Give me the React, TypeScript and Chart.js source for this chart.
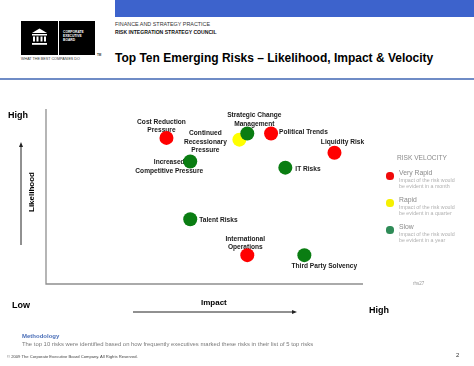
import React, { useEffect, useRef } from "react";
import { Chart, registerables } from "chart.js";

Chart.register(...registerables);

// ---------- DATA ----------
const riskNames = [
  "Cost Reduction Pressure",
  "Increased Competitive Pressure",
  "Talent Risks",
  "Continued Recessionary Pressure",
  "Strategic Change Management",
  "Political Trends",
  "Liquidity Risk",
  "IT Risks",
  "International Operations",
  "Third Party Solvency",
];
const riskLabelLines = [
  ["Cost Reduction", "Pressure"],
  ["Increased", "Competitive Pressure"],
  ["Talent Risks"],
  ["Continued", "Recessionary", "Pressure"],
  ["Strategic Change", "Management"],
  ["Political Trends"],
  ["Liquidity Risk"],
  ["IT Risks"],
  ["International", "Operations"],
  ["Third Party Solvency"],
];
const impact = [3.8, 4.55, 4.55, 6.1, 6.35, 7.1, 9.1, 7.55, 6.35, 8.15];
const likelihood = [8.35, 7.0, 3.7, 8.25, 8.6, 8.6, 7.5, 6.65, 1.65, 1.65];
const velocity = [
  "Very Rapid",
  "Slow",
  "Slow",
  "Rapid",
  "Slow",
  "Very Rapid",
  "Very Rapid",
  "Slow",
  "Very Rapid",
  "Slow",
];
const velocityLevels = ["Very Rapid", "Rapid", "Slow"];
const velocityNotes = [
  ["Impact of the risk would", "be evident in a month"],
  ["Impact of the risk would", "be evident in a quarter"],
  ["Impact of the risk would", "be evident in a year"],
];

// ---------- STYLE ----------
const velocityColors: Record<string, string> = {
  "Very Rapid": "#ff0000",
  Rapid: "#ffff00",
  Slow: "#0a7d12",
};
const legendColors: Record<string, string> = {
  "Very Rapid": "#f00a0a",
  Rapid: "#f5f000",
  Slow: "#2e8b57",
};
// label placement relative to each point (px): dx, dy of first line, alignment
const labelPlacement: { dx: number; dy: number; align: CanvasTextAlign }[] = [
  { dx: -5, dy: -16, align: "center" },
  { dx: -21, dy: 1, align: "center" },
  { dx: 9, dy: 1, align: "left" },
  { dx: -34, dy: -6, align: "center" },
  { dx: 7, dy: -18, align: "center" },
  { dx: 8, dy: -1, align: "left" },
  { dx: 8, dy: -11, align: "center" },
  { dx: 10, dy: 2, align: "left" },
  { dx: -2, dy: -16, align: "center" },
  { dx: 20, dy: 11, align: "center" },
];

const FONT = '"Liberation Sans", Arial, Helvetica, sans-serif';

const axesPlugin = {
  id: "axesLines",
  beforeDatasetsDraw(chart: any) {
    const { ctx, chartArea } = chart;
    ctx.save();
    ctx.strokeStyle = "#8f8f8f";
    ctx.lineWidth = 1.3;
    ctx.beginPath();
    ctx.moveTo(chartArea.left, chartArea.top);
    ctx.lineTo(chartArea.left, chartArea.bottom);
    ctx.lineTo(chartArea.right, chartArea.bottom);
    ctx.stroke();
    ctx.restore();
  },
};

const labelPlugin = {
  id: "riskLabels",
  beforeDatasetsDraw(chart: any) {
    const { ctx } = chart;
    const meta = chart.getDatasetMeta(0);
    ctx.save();
    ctx.font = `bold 6.6px ${FONT}`;
    ctx.fillStyle = "#1a1a1a";
    ctx.textBaseline = "middle";
    meta.data.forEach((pt: any, i: number) => {
      const p = labelPlacement[i];
      ctx.textAlign = p.align;
      riskLabelLines[i].forEach((line, j) => {
        ctx.fillText(line, pt.x + p.dx, pt.y + p.dy + j * 8.5);
      });
    });
    ctx.restore();
  },
};

function T(props: {
  x: number;
  y: number;
  size: number;
  bold?: boolean;
  color?: string;
  children: React.ReactNode;
  style?: React.CSSProperties;
}) {
  return (
    <div
      style={{
        position: "absolute",
        left: props.x,
        top: props.y,
        transform: "translateY(-50%)",
        fontSize: props.size,
        fontWeight: props.bold ? "bold" : "normal",
        color: props.color || "#000",
        lineHeight: 1,
        whiteSpace: "nowrap",
        fontFamily: FONT,
        ...props.style,
      }}
    >
      {props.children}
    </div>
  );
}

export default function App() {
  const canvasRef = useRef<HTMLCanvasElement | null>(null);

  useEffect(() => {
    document.body.style.margin = "0";
    const canvas = canvasRef.current;
    if (!canvas) return;
    const chart = new Chart(canvas, {
      type: "scatter",
      data: {
        labels: riskNames,
        datasets: [
          {
            label: "Risks",
            data: impact.map((x, i) => ({ x, y: likelihood[i] })),
            pointBackgroundColor: velocity.map((v) => velocityColors[v]),
            pointBorderWidth: 0,
            pointRadius: 7,
            pointHoverRadius: 7,
          },
        ],
      },
      options: {
        animation: false,
        responsive: false,
        devicePixelRatio: 1,
        layout: { padding: { left: 46, top: 109, right: 111, bottom: 82 } },
        scales: {
          x: { display: false, min: 0, max: 10 },
          y: { display: false, min: 0, max: 10 },
        },
        plugins: {
          legend: { display: false },
          tooltip: { enabled: false },
        },
      },
      plugins: [axesPlugin, labelPlugin],
    });
    return () => chart.destroy();
  }, []);

  return (
    <div
      style={{
        position: "absolute",
        left: 0,
        top: 0,
        width: 474,
        height: 366,
        background: "#fff",
        overflow: "hidden",
        fontFamily: FONT,
      }}
    >
      {/* header */}
      <div style={{ position: "absolute", left: 115, top: 0, width: 359, height: 17, background: "#3d63cc" }} />
      <div style={{ position: "absolute", left: 0, top: 78, width: 474, height: 2, background: "#6f8cc6" }} />
      <svg width={474} height={366} style={{ position: "absolute", left: 0, top: 0 }}>
        <rect x={21} y={21} width={37} height={34} fill="#000" />
        <rect x={59} y={21} width={36} height={34} fill="#000" />
        <polygon points="32,33 39.5,28.5 47,33" fill="#fff" />
        <rect x={32} y={34} width={15} height={1.5} fill="#fff" />
        <rect x={33} y={36.5} width={2} height={5} fill="#fff" />
        <rect x={36.5} y={36.5} width={2} height={5} fill="#fff" />
        <rect x={40.5} y={36.5} width={2} height={5} fill="#fff" />
        <rect x={44} y={36.5} width={2} height={5} fill="#fff" />
        <rect x={32} y={43} width={15} height={1.8} fill="#fff" />
        {/* likelihood arrow */}
        <line x1={21} y1={245} x2={21} y2={146} stroke="#222" strokeWidth={1} />
        <polygon points="21,142 19,147 23,147" fill="#222" />
        {/* impact arrow */}
        <line x1={133} y1={312} x2={293} y2={312} stroke="#222" strokeWidth={1} />
        <polygon points="297,312 292,310 292,314" fill="#222" />
      </svg>
      <T x={63} y={32.5} size={3.3} bold color="#fff">CORPORATE</T>
      <T x={63} y={36.5} size={3.3} bold color="#fff">EXECUTIVE</T>
      <T x={63} y={40.5} size={3.3} bold color="#fff">BOARD</T>
      <T x={21} y={60} size={3.7} color="#333">WHAT THE BEST COMPANIES DO</T>
      <T x={97} y={55} size={3} bold color="#333">TM</T>
      <T x={115} y={24.5} size={5.4} color="#333">FINANCE AND STRATEGY PRACTICE</T>
      <T x={115} y={33} size={5.1} bold color="#111">RISK INTEGRATION STRATEGY COUNCIL</T>
      <T x={115} y={57.5} size={12} bold color="#000">Top Ten Emerging Risks – Likelihood, Impact &amp; Velocity</T>

      <canvas
        ref={canvasRef}
        width={474}
        height={366}
        style={{ position: "absolute", left: 0, top: 0, width: 474, height: 366 }}
      />

      {/* axis titles */}
      <T x={8} y={115} size={9} bold>High</T>
      <div
        style={{
          position: "absolute",
          left: 32,
          top: 192,
          transform: "translate(-50%,-50%) rotate(-90deg)",
          fontSize: 8,
          fontWeight: "bold",
          lineHeight: 1,
          whiteSpace: "nowrap",
          fontFamily: FONT,
        }}
      >
        Likelihood
      </div>
      <T x={12} y={305} size={9} bold>Low</T>
      <T x={201} y={303} size={8} bold>Impact</T>
      <T x={369} y={310} size={9} bold>High</T>

      {/* legend */}
      <T x={397} y={158} size={6.6} color="#8a8a8a">RISK VELOCITY</T>
      {velocityLevels.map((lv, i) => {
        const base = 173 + i * 27;
        return (
          <React.Fragment key={lv}>
            <div
              style={{
                position: "absolute",
                left: 390 - 3.6,
                top: base + 3 - 3.6,
                width: 7.2,
                height: 7.2,
                borderRadius: "50%",
                background: legendColors[lv],
              }}
            />
            <T x={399} y={base} size={6.8} color="#8a8a8a">{lv}</T>
            <T x={399} y={base + 8} size={5.3} color="#b0b0b0">{velocityNotes[i][0]}</T>
            <T x={399} y={base + 14} size={5.3} color="#b0b0b0">{velocityNotes[i][1]}</T>
          </React.Fragment>
        );
      })}
      <T x={413} y={284} size={4.5} color="#999">rhs27</T>

      {/* footer */}
      <T x={22} y={336} size={6} bold color="#4b6fb8">Methodology</T>
      <T x={22} y={345} size={5.9} color="#7a7a7a">
        The top 10 risks were identified based on how frequently executives marked these risks in their list of 5 top risks
      </T>
      <T x={7} y={357} size={4.15} color="#444">© 2009 The Corporate Executive Board Company. All Rights Reserved.</T>
      <T x={456} y={355} size={6} color="#333">2</T>
    </div>
  );
}
